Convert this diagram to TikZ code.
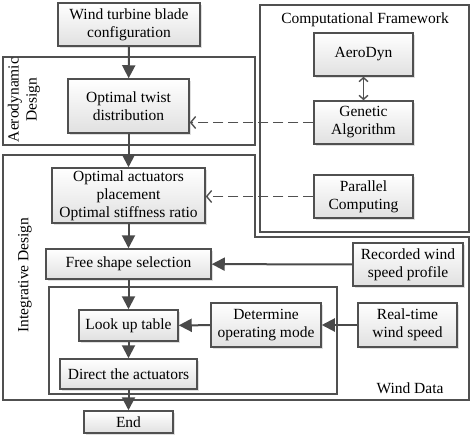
\documentclass[tikz,border=0pt]{standalone}
\usepackage{fontspec}
\setmainfont{Liberation Serif}
\usetikzlibrary{arrows.meta,shadows,calc}
\definecolor{ln}{HTML}{505050}
\definecolor{ar}{HTML}{4A4A4A}
\tikzset{
  blk/.style={draw=ln, line width=1.5pt, top color=white, bottom color=black!12,
    drop shadow={shadow xshift=1.5pt, shadow yshift=-1.5pt, opacity=0.25},
    align=center, inner sep=0pt, font=\fontsize{15.5}{18}\selectfont},
  grp/.style={draw=ln, line width=1.5pt},
  lbl/.style={font=\fontsize{15.5}{18}\selectfont, inner sep=0pt, align=center},
  flow/.style={draw=ar, line width=2pt, -{Triangle[length=13pt,width=13pt]}},
  dsh/.style={draw=ln, line width=1.4pt, dash pattern=on 10pt off 5pt, -{Straight Barb[length=5pt,width=12pt]}},
  dbl/.style={draw=ln, line width=1.4pt, {Straight Barb[length=4pt,width=9pt]}-{Straight Barb[length=4pt,width=9pt]}}
}
\begin{document}
\begin{tikzpicture}[x=1pt,y=-1pt]
\useasboundingbox (0,0) rectangle (474,439);
% containers
\draw[grp] (3,57) rectangle (255,145);
\draw[grp] (260,5) rectangle (469,232);
\draw[grp] (3,155) -- (255,155) -- (255,237) -- (469,237) -- (469,400) -- (3,400) -- cycle;
\draw[grp] (49,287) rectangle (337,394);
% labels
\node[lbl, rotate=90] (lad) at (24,100) {Aerodynamic\\Design};
\node[lbl, rotate=90] (lid) at (25,275) {Integrative Design};
\node[lbl] (lcf) at (365,20) {Computational Framework};
\node[lbl] (lwd) at (410,388) {Wind Data};
% blocks
\node[blk, minimum width=142pt, minimum height=43pt] (wtb) at (129,24.5) {Wind turbine blade\\configuration};
\node[blk, minimum width=121pt, minimum height=54pt] (twist) at (128.5,106) {Optimal twist\\distribution};
\node[blk, minimum width=153pt, minimum height=55pt] (act) at (128.5,195.5) {Optimal actuators\\placement\\Optimal stiffness ratio};
\node[blk, minimum width=165pt, minimum height=30pt] (free) at (128.5,264) {Free shape selection};
\node[blk, minimum width=99pt, minimum height=31pt] (look) at (128.5,325.5) {Look up table};
\node[blk, minimum width=137pt, minimum height=30pt] (dir) at (128.5,374) {Direct the actuators};
\node[blk, minimum width=89pt, minimum height=22pt] (end) at (128.5,422) {End};
\node[blk, minimum width=110pt, minimum height=44pt] (det) at (266,325) {Determine\\operating mode};
\node[blk, minimum width=99pt, minimum height=44pt] (rt) at (407.5,325) {Real-time\\wind speed};
\node[blk, minimum width=110pt, minimum height=43pt] (rec) at (408,264.5) {Recorded wind\\speed profile};
\node[blk, minimum width=99pt, minimum height=43pt] (aero) at (363.5,54.5) {AeroDyn};
\node[blk, minimum width=99pt, minimum height=43pt] (ga) at (363.5,122.5) {Genetic\\Algorithm};
\node[blk, minimum width=99pt, minimum height=43pt] (pc) at (363.5,196.5) {Parallel\\Computing};
% connectors
\draw[flow] (wtb) -- (twist);
\draw[flow] (twist) -- (act);
\draw[flow] (act) -- (free);
\draw[flow] (free) -- (look);
\draw[flow] (look) -- (dir);
\draw[flow] (dir) -- (end);
\draw[flow] (rec) -- (free);
\draw[flow] (rt) -- (det);
\draw[flow] (det) -- (look);
\draw[dbl] (aero) -- (ga);
\draw[dsh] (ga.west) -- (ga.west -| twist.east);
\draw[dsh] (pc.west) -- (pc.west -| act.east);
\end{tikzpicture}
\end{document}
